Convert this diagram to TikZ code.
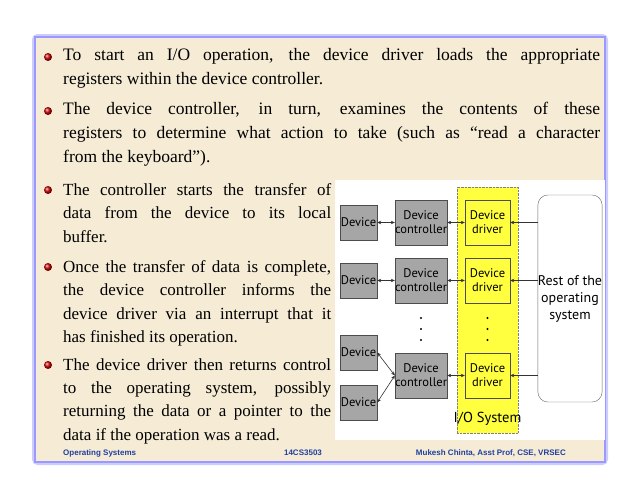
\documentclass[tikz,border=0pt]{standalone}
\usepackage{fontspec}
\setmainfont{Liberation Serif}
\newfontfamily\diafont{PT Sans}
\newfontfamily\footfont{Liberation Sans}
\usetikzlibrary{arrows.meta}
\definecolor{beige}{HTML}{F6ECD6}
\definecolor{boxgray}{HTML}{A6A6A6}
\definecolor{ioyellow}{HTML}{FFFF40}
\definecolor{footblue}{HTML}{1F3FA0}
\hyphenpenalty=10000
\exhyphenpenalty=10000
\begin{document}
\begin{tikzpicture}[x=1pt,y=-1pt,
  para/.style={anchor=north west,inner sep=0pt,align=justify,font=\fontsize{17.5}{24}\selectfont},
  bul/.style={circle,inner sep=0pt,minimum size=8pt,shading=ball,ball color=red!80!black},
  dev/.style={draw=black!70,fill=boxgray,inner sep=0pt,font=\diafont\fontsize{12.5}{14}\selectfont,align=center},
  drv/.style={draw=black!70,fill=ioyellow,inner sep=0pt,font=\diafont\fontsize{12.5}{14}\selectfont,align=center},
  arr/.style={-{Stealth[length=4pt,width=3.5pt]},line width=0.6pt,black!80},
  darr/.style={{Stealth[length=4pt,width=3.5pt]}-{Stealth[length=4pt,width=3.5pt]},line width=0.6pt,black!80},
  foot/.style={font=\footfont\bfseries\fontsize{8}{9}\selectfont,text=footblue,inner sep=0pt}]
\useasboundingbox (0,0) rectangle (638,493);
\fill[white] (0,0) rectangle (638,493);
\draw[blue!20,line width=6pt,rounded corners=3pt] (35,37) rectangle (605,462);
\draw[blue!40,line width=2pt,fill=beige] (35,37) rectangle (605,462);
% text
\node[para,text width=537pt] (p1) at (63,48) {To start an I/O operation, the device driver loads the appropriate\linebreak registers within the device controller.};
\node[para,text width=537pt] (p2) at (63,102) {The device controller, in turn, examines the contents of these\linebreak registers to determine what action to take (such as “read a character\linebreak from the keyboard”).};
\node[para,text width=268pt,font=\fontsize{17}{23.5}\selectfont] (p3) at (63,183) {The controller starts the transfer of\linebreak data from the device to its local\linebreak buffer.};
\node[para,text width=268pt,font=\fontsize{17}{23.5}\selectfont] (p4) at (63,260) {Once the transfer of data is complete,\linebreak the device controller informs the\linebreak device driver via an interrupt that it\linebreak has finished its operation.};
\node[para,text width=268pt,font=\fontsize{17}{23.5}\selectfont] (p5) at (63,358) {The device driver then returns control\linebreak to the operating system, possibly\linebreak returning the data or a pointer to the\linebreak data if the operation was a read.};
\foreach \n/\y in {b1/57,b2/111,b3/190,b4/267,b5/365}{\node[bul] (\n) at (48,\y) {};}
% diagram
\fill[white] (335,180) rectangle (605,440);
\node[draw=black!50,densely dotted,fill=ioyellow,minimum width=61pt,minimum height=246pt,inner sep=0pt] (io) at (487.5,310) {};
\node[font=\diafont\fontsize{14.5}{16}\selectfont,inner sep=0pt] (iot) at (487.5,419) {I/O System};
\node[draw=black!60,rounded corners=10pt,fill=white,minimum width=64pt,minimum height=207pt,align=center,font=\diafont\fontsize{14}{17}\selectfont,inner sep=0pt] (rest) at (570,298.5) {Rest of the\\operating\\system};
\foreach \i/\y in {1/222.5,2/280.5,3/375.5}{
  \node[dev,minimum width=48pt,minimum height=45pt] (c\i) at (421,\y) {Device\\controller};
  \node[drv,minimum width=45pt,minimum height=45pt] (d\i) at (487.5,\y) {Device\\driver};
  \draw[darr] (c\i) -- (d\i);
  \draw[arr] (rest.west |- d\i) coordinate (r\i) -- (d\i);
}
\node[dev,minimum width=37pt,minimum height=35pt] (e1) at (358.5,222.5) {Device};
\node[dev,minimum width=37pt,minimum height=35pt] (e2) at (358.5,280.5) {Device};
\node[dev,minimum width=37pt,minimum height=35pt] (e3) at (358.5,352.5) {Device};
\node[dev,minimum width=37pt,minimum height=35pt] (e4) at (358.5,402.5) {Device};
\draw[darr] (e1) -- (c1);
\draw[darr] (e2) -- (c2);
\draw[darr] (e3.east) -- (c3.west);
\draw[darr] (e4.east) -- (c3.west);
\foreach \x/\n in {421/k,487.5/m}{
  \foreach \y/\j in {318/1,329/2,340/3}{\fill (\x,\y) circle (1.1pt) coordinate (\n\j);}
}
% footer
\node[foot,anchor=west] (f1) at (63,453) {Operating Systems};
\node[foot] (f2) at (303,453) {14CS3503};
\node[foot,anchor=east] (f3) at (566,453) {Mukesh Chinta, Asst Prof, CSE, VRSEC};
\end{tikzpicture}
\end{document}
